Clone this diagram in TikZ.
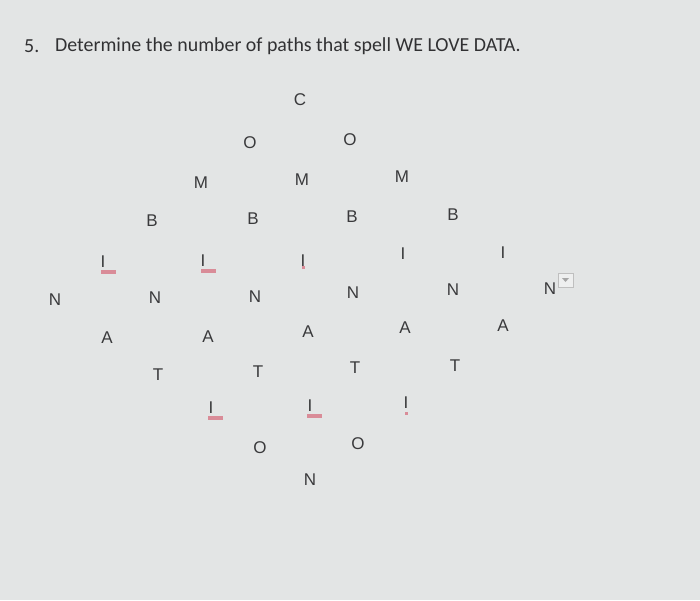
\documentclass[tikz,border=0pt]{standalone}
\usepackage{fontspec}
\setmainfont{Liberation Sans}
\newfontfamily\titlefont{Carlito}
\definecolor{bg}{HTML}{E3E5E5}
\definecolor{ink}{HTML}{3A3A3C}
\definecolor{squig}{HTML}{D98C98}
\begin{document}
\begin{tikzpicture}[x=1pt,y=-1pt,
  lt/.style={text=ink,font=\fontsize{17}{17}\selectfont,inner sep=0pt,anchor=center},
  ttl/.style={text=ink!85!black,font=\titlefont\fontsize{19.9}{20}\selectfont,inner sep=0pt,anchor=west},
  bar/.style={fill=squig,draw=none}]
\fill[bg] (0,0) rectangle (700,600);
\useasboundingbox (0,0) rectangle (700,600);
\node[ttl] (num) at (24,46) {5.};
\node[ttl] (title) at (55,46) {Determine the number of paths that spell WE LOVE DATA.};
% row C
\node[lt] (c1) at (300,100) {C};
% row O
\node[lt] (o1) at (250,143) {O};
\node[lt] (o2) at (350,140) {O};
% row M
\node[lt] (m1) at (201,183) {M};
\node[lt] (m2) at (302,180) {M};
\node[lt] (m3) at (402,177) {M};
% row B
\node[lt] (b1) at (152,221) {B};
\node[lt] (b2) at (253,219) {B};
\node[lt] (b3) at (352,217) {B};
\node[lt] (b4) at (453,215) {B};
% row I
\node[lt] (i1) at (103,262) {I};
\node[lt] (i2) at (203,261) {I};
\node[lt] (i3) at (303,261) {I};
\node[lt] (i4) at (403,254) {I};
\node[lt] (i5) at (503,253) {I};
\fill[bar] (101,270) rectangle (116,273.5);
\fill[bar] (201,269) rectangle (216,272.5);
\fill[bar] (302,265.5) rectangle (305,268.5);
% row N
\node[lt] (n1) at (55,300) {N};
\node[lt] (n2) at (155,298) {N};
\node[lt] (n3) at (255,297) {N};
\node[lt] (n4) at (353,293) {N};
\node[lt] (n5) at (453,290) {N};
\node[lt] (n6) at (550,289) {N};
\draw[gray!50,fill=bg!60!white] (558,273) rectangle (573,287);
\fill[gray!70] (562,278) -- (569,278) -- (565.5,282) -- cycle;
% row A
\node[lt] (a1) at (107,338) {A};
\node[lt] (a2) at (208,337) {A};
\node[lt] (a3) at (308,332) {A};
\node[lt] (a4) at (405,328) {A};
\node[lt] (a5) at (503,326) {A};
% row T
\node[lt] (t1) at (158,375) {T};
\node[lt] (t2) at (258,372) {T};
\node[lt] (t3) at (355,368) {T};
\node[lt] (t4) at (455,366) {T};
% row I lower
\node[lt] (j1) at (211,408) {I};
\node[lt] (j2) at (310,406) {I};
\node[lt] (j3) at (406,403) {I};
\fill[bar] (208,416) rectangle (223,419.5);
\fill[bar] (307,414) rectangle (322,417.5);
\fill[bar] (405,411.5) rectangle (408,414.5);
% row O lower
\node[lt] (p1) at (260,448) {O};
\node[lt] (p2) at (358,444) {O};
% row N lower
\node[lt] (q1) at (310,480) {N};
\end{tikzpicture}
\end{document}
